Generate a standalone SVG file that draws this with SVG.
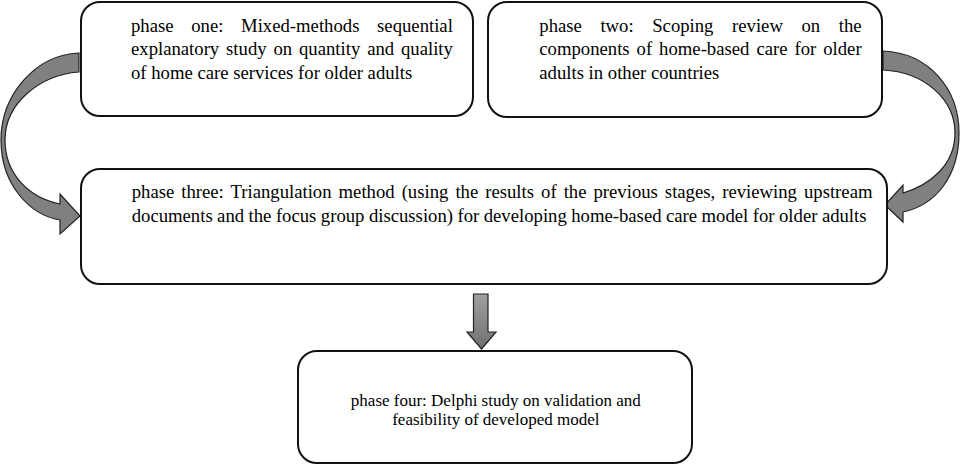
<svg xmlns="http://www.w3.org/2000/svg" width="960" height="464" viewBox="0 0 960 464">
<defs>
<style>
.box{fill:#ffffff;stroke:#111;stroke-width:2}
.t{font-family:"Liberation Serif","Times New Roman",serif;font-size:18.7px;fill:#000}
.t4{font-family:"Liberation Serif","Times New Roman",serif;font-size:17px;fill:#000}
.arr{fill:#808080;stroke:#222;stroke-width:1.2;stroke-linejoin:miter}
</style>
<linearGradient id="dg" x1="0" y1="0" x2="0" y2="1">
<stop offset="0" stop-color="#a0a0a0"/>
<stop offset="1" stop-color="#707070"/>
</linearGradient>
</defs>
<rect width="960" height="464" fill="#ffffff"/>
<g id="connectors">
<path class="arr" d="M79,53 C35,55 1,95 1,140 C1,185 30,215 60,220 L60,234 L80,216 L60,194 L60,204 C30,198 5,175 5,140 C5,103 40,75 79,72 Z"/>
<path class="arr" d="M883,51 C930,53 959,90 959,133 C959,176 936,205 903,212 L903,222 L885,205 L903,185 L903,193 C930,185 955,165 955,133 C955,100 925,72 883,70 Z"/>
<path class="arr" style="fill:url(#dg)" d="M473.5,294 L488,294 L488,332 L496,332 L481.5,349 L467,332 L473.5,332 Z"/>
</g>
<g id="phase1">
<rect class="box" x="81" y="2" width="392" height="114" rx="19"/>
<text class="t"><tspan x="131" y="31.5" word-spacing="13">phase one: Mixed-methods sequential</tspan><tspan x="131" y="55" word-spacing="2.2">explanatory study on quantity and quality</tspan><tspan x="131" y="78.5">of home care services for older adults</tspan></text>
</g>
<g id="phase2">
<rect class="box" x="488" y="2" width="394" height="115" rx="19"/>
<text class="t"><tspan x="539.3" y="31.5" word-spacing="13.9">phase two: Scoping review on the</tspan><tspan x="539.3" y="55" word-spacing="2.3">components of home-based care for older</tspan><tspan x="539.3" y="78.5">adults in other countries</tspan></text>
</g>
<g id="phase3">
<rect class="box" x="81" y="169" width="806" height="115" rx="19"/>
<text class="t"><tspan x="131.7" y="198" word-spacing="2.35">phase three: Triangulation method (using the results of the previous stages, reviewing upstream</tspan><tspan x="131.7" y="221.5" word-spacing="-0.2">documents and the focus group discussion) for developing home-based care model for older adults</tspan></text>
</g>
<g id="phase4">
<rect class="box" x="298" y="351" width="394" height="112" rx="19"/>
<text class="t4" text-anchor="middle"><tspan x="495.8" y="405.5">phase four: Delphi study on validation and</tspan><tspan x="495.8" y="424.5">feasibility of developed model</tspan></text>
</g>
</svg>
